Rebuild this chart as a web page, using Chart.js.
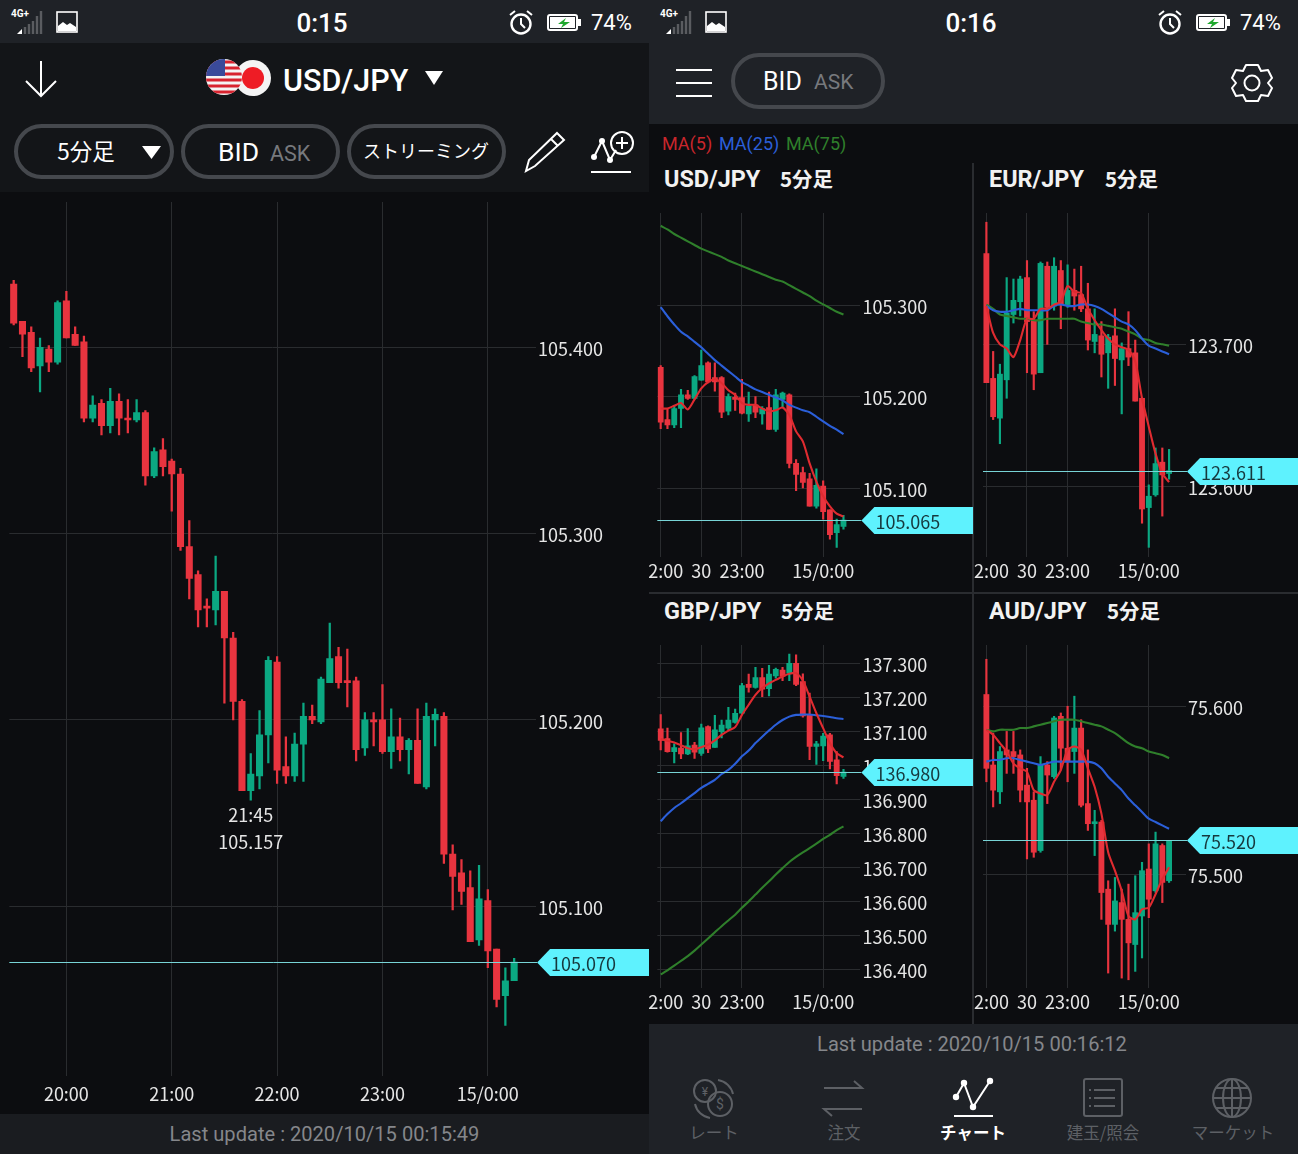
<!DOCTYPE html>
<html lang="ja">
<head>
<meta charset="utf-8">
<title>USD/JPY 5分足</title>
<script src="https://cdn.jsdelivr.net/npm/chart.js@4/dist/chart.umd.min.js"></script>
<style>
  html, body { margin: 0; padding: 0; background: #0c0d10; }
  #page { position: relative; width: 1298px; height: 1154px; overflow: hidden; }
  #page svg { position: absolute; left: 0; top: 0; }
  #page canvas { position: absolute; }
  text { font-family: "Roboto", "Noto Sans CJK JP", sans-serif; }
  .jp { font-family: "Noto Sans CJK JP", sans-serif; }
</style>
</head>
<body>
<div id="page">
<svg width="1298" height="1154" viewBox="0 0 1298 1154">
  <defs>
    <clipPath id="usFlag"><circle cx="224" cy="77" r="18"/></clipPath>
    <g id="statusIcons">
      <text x="11" y="17" font-size="10" font-weight="700" fill="#fff">4G+</text>
      <path d="M17 34 L22 34 L22 29 Z" fill="#fff"/>
      <path d="M25 34V27 M29 34V24 M33 34V21 M37 34V16 M41 34V11" stroke="#5a5c60" stroke-width="2.4"/>
      <rect x="57" y="12" width="20" height="20" fill="none" stroke="#fff" stroke-width="1.6"/>
      <path d="M58 31 V26 L63 22 L67 25 L70 23 L76 27 V31 Z" fill="#fff"/>
      <circle cx="521" cy="24" r="9.5" fill="none" stroke="#fff" stroke-width="2.4"/>
      <path d="M521 18 V24 L525 28 M510 15 L515 11 M532 15 L527 11" fill="none" stroke="#fff" stroke-width="2"/>
      <rect x="548" y="15" width="29" height="15" rx="2" fill="none" stroke="#fff" stroke-width="2"/>
      <rect x="578" y="19" width="3" height="7" fill="#fff"/>
      <rect x="550" y="17" width="25" height="11" fill="#fff"/>
      <path d="M558 24 L566 18 L564 22 L570 22 L561 28 L563 24 Z" fill="#1fa82e"/>
      <text x="591" y="30" font-size="22" fill="#fff">74%</text>
    </g>
  </defs>

  <!-- left phone -->
  <rect x="0" y="0" width="649" height="43" fill="#1f2227"/>
  <rect x="0" y="43" width="649" height="149" fill="#131518"/>
  <rect x="0" y="192" width="649" height="922" fill="#0c0d10"/>
  <rect x="0" y="1114" width="649" height="40" fill="#1a1c20"/>
  <use href="#statusIcons"/>
  <text x="322" y="32" font-size="26" font-weight="500" fill="#fff" text-anchor="middle">0:15</text>
  <path d="M41 61 V96 M26 81 L41 96 L56 81" fill="none" stroke="#fff" stroke-width="2"/>
  <circle cx="253" cy="78" r="18" fill="#f4f4f4"/>
  <circle cx="253" cy="78" r="11" fill="#ee1c25"/>
  <g clip-path="url(#usFlag)">
    <rect x="206" y="59" width="36" height="36" fill="#f4f4f4"/>
    <path d="M206 62h36M206 68h36M206 74h36M206 80h36M206 86h36M206 92h36" stroke="#d8232f" stroke-width="3"/>
    <rect x="206" y="59" width="19" height="17" fill="#3a4a9a"/>
  </g>
  <text x="283" y="91" font-size="30.5" font-weight="500" fill="#fff">USD/JPY</text>
  <path d="M425 71 H443 L434 85 Z" fill="#fff"/>

  <rect x="16" y="126" width="156" height="51" rx="25.5" fill="none" stroke="#45484d" stroke-width="4"/>
  <text class="jp" x="86" y="160" font-size="22.5" fill="#fff" text-anchor="middle">5分足</text>
  <path d="M142 146 H161 L151.5 159 Z" fill="#fff"/>
  <rect x="183" y="126" width="155" height="51" rx="25.5" fill="none" stroke="#45484d" stroke-width="4"/>
  <text x="218" y="161" font-size="26.5" fill="#fff">BID</text>
  <text x="270" y="161" font-size="21.5" fill="#77797d">ASK</text>
  <rect x="349" y="126" width="155" height="51" rx="25.5" fill="none" stroke="#45484d" stroke-width="4"/>
  <text class="jp" x="426" y="158" font-size="18" fill="#fff" text-anchor="middle">ストリーミング</text>
  <path d="M557 133 L564 140 L535 166 L526 171 L529 160 Z M551 139 L558 146" fill="none" stroke="#fff" stroke-width="2"/>
  <circle cx="622" cy="143" r="11" fill="none" stroke="#fff" stroke-width="2"/>
  <path d="M622 137 V149 M616 143 H628" stroke="#fff" stroke-width="2"/>
  <path d="M594 157 L602 141 L610 160 L616 150" fill="none" stroke="#fff" stroke-width="2"/>
  <circle cx="594" cy="157" r="3" fill="#fff"/><circle cx="602" cy="141" r="3" fill="#fff"/><circle cx="610" cy="160" r="3" fill="#fff"/>
  <path d="M591 172 H631" stroke="#fff" stroke-width="2"/>
  <text x="324.5" y="1141" font-size="20.1" fill="#85878b" text-anchor="middle">Last update : 2020/10/15 00:15:49</text>

  <!-- right phone -->
  <rect x="649" y="0" width="649" height="124" fill="#1f2227"/>
  <rect x="649" y="124" width="649" height="900" fill="#0c0d10"/>
  <rect x="649" y="1024" width="649" height="130" fill="#1f2227"/>
  <use href="#statusIcons" x="649"/>
  <text x="971" y="32" font-size="26" font-weight="500" fill="#fff" text-anchor="middle">0:16</text>
  <path d="M676 70 H712 M676 83 H712 M676 96 H712" stroke="#fff" stroke-width="2"/>
  <rect x="733" y="55" width="150" height="52" rx="26" fill="none" stroke="#45484d" stroke-width="4"/>
  <text x="763" y="90" font-size="25" fill="#fff">BID</text>
  <text x="814" y="89" font-size="21" fill="#77797d">ASK</text>
  <circle cx="1252" cy="83" r="7.5" fill="none" stroke="#fff" stroke-width="2"/>
  <path d="M1246 65 H1258 L1261 71 L1268 70 L1272 78 L1268 83 L1272 88 L1268 96 L1261 95 L1258 101 H1246 L1243 95 L1236 96 L1232 88 L1236 83 L1232 78 L1236 70 L1243 71 Z" fill="none" stroke="#fff" stroke-width="2" stroke-linejoin="round"/>

  <text x="662" y="150" font-size="18" fill="#c9262c">MA(5)</text>
  <text x="719" y="150" font-size="18" fill="#2b5fd9">MA(25)</text>
  <text x="786" y="150" font-size="18" fill="#2f7f2b">MA(75)</text>

  <text x="664" y="187" font-size="23.4" font-weight="700" fill="#f2f2f2">USD/JPY</text>
  <text class="jp" x="780" y="187" font-size="20.5" font-weight="700" fill="#f2f2f2">5分足</text>
  <text x="989" y="187" font-size="23.4" font-weight="700" fill="#f2f2f2">EUR/JPY</text>
  <text class="jp" x="1105" y="187" font-size="20.5" font-weight="700" fill="#f2f2f2">5分足</text>
  <text x="664" y="619" font-size="23.4" font-weight="700" fill="#f2f2f2">GBP/JPY</text>
  <text class="jp" x="781" y="619" font-size="20.5" font-weight="700" fill="#f2f2f2">5分足</text>
  <text x="989" y="619" font-size="23.4" font-weight="700" fill="#f2f2f2">AUD/JPY</text>
  <text class="jp" x="1107" y="619" font-size="20.5" font-weight="700" fill="#f2f2f2">5分足</text>

  <path d="M973 163 V1024 M649 593 H1298" stroke="#2a2c30" stroke-width="2"/>

  <text x="972" y="1051" font-size="20.1" fill="#85878b" text-anchor="middle">Last update : 2020/10/15 00:16:12</text>
  <!-- bottom nav -->
  <g fill="none" stroke="#5d6065" stroke-width="2">
    <circle cx="705" cy="1091" r="11"/><circle cx="720" cy="1104" r="12"/>
    <path d="M718 1080 a18 18 0 0 1 15 14 M695 1104 a18 18 0 0 0 15 14"/>
    <path d="M824 1088 H862 L854 1081 M862 1109 H824 L832 1116"/>
    <rect x="1084" y="1079" width="38" height="37" rx="2"/>
    <path d="M1094 1090 H1115 M1094 1098 H1115 M1094 1106 H1115 M1089 1090 h2 M1089 1098 h2 M1089 1106 h2"/>
    <circle cx="1232" cy="1098" r="19"/><ellipse cx="1232" cy="1098" rx="9" ry="19"/>
    <path d="M1232 1079 V1117 M1213 1098 H1251 M1216 1088 H1248 M1216 1108 H1248"/>
  </g>
  <text x="705" y="1096" font-size="12" fill="#5d6065" text-anchor="middle">¥</text>
  <text x="720" y="1109" font-size="14" fill="#5d6065" text-anchor="middle">$</text>
  <path d="M956 1097 L964 1083 L973 1107 L990 1081" fill="none" stroke="#fff" stroke-width="2"/>
  <circle cx="956" cy="1097" r="3.2" fill="#fff"/><circle cx="964" cy="1083" r="3.2" fill="#fff"/><circle cx="973" cy="1107" r="3.2" fill="#fff"/><circle cx="990" cy="1081" r="3.2" fill="#fff"/>
  <path d="M954 1116 H993" stroke="#fff" stroke-width="2"/>
  <g class="jp" font-size="16.5" text-anchor="middle" fill="#5d6065">
    <text class="jp" x="714" y="1139">レート</text>
    <text class="jp" x="844" y="1139">注文</text>
    <text class="jp" x="973" y="1139" fill="#fff" font-weight="700">チャート</text>
    <text class="jp" x="1103" y="1139">建玉/照会</text>
    <text class="jp" x="1233" y="1139">マーケット</text>
  </g>
</svg>
<canvas id="mainChart" width="649" height="920" style="left:0;top:193px"></canvas>
<canvas id="usdChart" width="324" height="395" style="left:649px;top:195px"></canvas>
<canvas id="eurChart" width="324" height="395" style="left:974px;top:195px"></canvas>
<canvas id="gbpChart" width="324" height="430" style="left:649px;top:594px"></canvas>
<canvas id="audChart" width="324" height="430" style="left:974px;top:594px"></canvas>
</div>

<script>
// Datos
const mainCategories = ['19:30','19:35','19:40','19:45','19:50','19:55','20:00','20:05','20:10','20:15','20:20','20:25','20:30','20:35','20:40','20:45','20:50','20:55','21:00','21:05','21:10','21:15','21:20','21:25','21:30','21:35','21:40','21:45','21:50','21:55','22:00','22:05','22:10','22:15','22:20','22:25','22:30','22:35','22:40','22:45','22:50','22:55','23:00','23:05','23:10','23:15','23:20','23:25','23:30','23:35','23:40','23:45','23:50','23:55','15/0:00','15/0:05','15/0:10','15/0:15','15/0:20','15/0:25'];
const mainTimeTicks = ['20:00','21:00','22:00','23:00','15/0:00'];
const mainPriceTicks = [105.4, 105.3, 105.2, 105.1];
const mainMarkedTime = '21:45';
const mainOpen = [105.434,105.414,105.408,105.390,105.399,105.392,105.425,105.407,105.403,105.362,105.370,105.358,105.371,105.362,105.361,105.365,105.331,105.345,105.339,105.332,105.293,105.278,105.261,105.259,105.269,105.244,105.210,105.162,105.170,105.192,105.231,105.175,105.170,105.187,105.202,105.199,105.220,105.234,105.221,105.221,105.185,105.200,105.200,105.183,105.191,105.184,105.189,105.164,105.200,105.202,105.128,105.118,105.110,105.082,105.103,105.077,105.052,105.060];
const mainHigh = [105.436,105.414,105.411,105.405,105.401,105.425,105.430,105.411,105.406,105.374,105.372,105.378,105.375,105.372,105.372,105.366,105.346,105.351,105.340,105.335,105.307,105.280,105.265,105.288,105.269,105.247,105.211,105.182,105.205,105.234,105.234,105.191,105.193,105.209,105.208,105.223,105.252,105.239,105.238,105.223,105.204,105.204,105.219,105.206,105.201,105.190,105.206,105.209,105.206,105.204,105.133,105.125,105.119,105.122,105.109,105.077,105.067,105.072];
const mainLow = [105.412,105.395,105.387,105.376,105.387,105.391,105.405,105.401,105.360,105.360,105.353,105.354,105.353,105.354,105.360,105.326,105.330,105.331,105.312,105.291,105.265,105.250,105.250,105.251,105.209,105.200,105.162,105.157,105.163,105.177,105.166,105.166,105.167,105.167,105.198,105.198,105.220,105.217,105.207,105.178,105.181,105.186,105.182,105.174,105.178,105.171,105.166,105.163,105.186,105.123,105.098,105.101,105.081,105.079,105.067,105.046,105.036,105.060];
const mainClose = [105.413,105.407,105.389,105.400,105.392,105.424,105.405,105.401,105.362,105.369,105.358,105.371,105.362,105.361,105.365,105.331,105.344,105.336,105.332,105.293,105.276,105.259,105.260,105.269,105.244,105.210,105.162,105.171,105.192,105.232,105.173,105.170,105.187,105.202,105.200,105.222,105.233,105.220,105.220,105.184,105.200,105.199,105.183,105.191,105.184,105.189,105.166,105.202,105.203,105.128,105.116,105.108,105.081,105.104,105.076,105.050,105.060,105.070];

const subCategories = ['22:00','22:05','22:10','22:15','22:20','22:25','30','22:35','22:40','22:45','22:50','22:55','23:00','23:05','23:10','23:15','23:20','23:25','23:30','23:35','23:40','23:45','23:50','23:55','15/0:00','15/0:05','15/0:10','15/0:15','15/0:20','15/0:25'];
const subTimeTicks = ['22:00','30','23:00','15/0:00'];

const usdPriceTicks = [105.3, 105.2, 105.1];
const usdOpen = [105.232,105.175,105.169,105.187,105.202,105.198,105.218,105.237,105.221,105.221,105.184,105.199,105.199,105.181,105.191,105.181,105.188,105.164,105.197,105.202,105.127,105.117,105.110,105.080,105.102,105.076,105.051,105.058];
const usdHigh = [105.234,105.186,105.190,105.208,105.207,105.223,105.251,105.238,105.237,105.222,105.203,105.204,105.219,105.205,105.200,105.189,105.205,105.208,105.205,105.203,105.131,105.123,105.116,105.121,105.108,105.076,105.066,105.070];
const usdLow = [105.165,105.165,105.166,105.166,105.197,105.197,105.218,105.215,105.206,105.177,105.180,105.185,105.181,105.173,105.177,105.170,105.164,105.162,105.189,105.122,105.097,105.100,105.080,105.078,105.066,105.044,105.035,105.055];
const usdClose = [105.172,105.169,105.187,105.202,105.198,105.222,105.234,105.216,105.216,105.183,105.200,105.197,105.182,105.190,105.183,105.187,105.164,105.202,105.204,105.127,105.115,105.106,105.080,105.103,105.074,105.049,105.060,105.065];
const usdMa5 = [105.187,105.187,105.190,105.193,105.186,105.197,105.209,105.216,105.219,105.215,105.207,105.202,105.193,105.191,105.191,105.187,105.184,105.185,105.188,105.180,105.162,105.151,105.127,105.107,105.091,105.080,105.072,105.069];
const usdMa25 = [105.298,105.288,105.279,105.271,105.266,105.260,105.254,105.247,105.240,105.234,105.228,105.222,105.216,105.212,105.208,105.205,105.202,105.199,105.196,105.191,105.188,105.185,105.183,105.178,105.173,105.168,105.164,105.159];
const usdMa75 = [105.387,105.383,105.378,105.374,105.370,105.366,105.362,105.359,105.356,105.353,105.349,105.346,105.343,105.340,105.337,105.334,105.331,105.328,105.326,105.322,105.318,105.314,105.310,105.305,105.301,105.297,105.293,105.290];

const eurPriceTicks = [123.7, 123.6];
const eurOpen = [123.764,123.676,123.648,123.675,123.721,123.730,123.747,123.717,123.680,123.755,123.727,123.752,123.728,123.738,123.735,123.725,123.702,123.706,123.694,123.706,123.689,123.697,123.694,123.662,123.585,123.594,123.617,123.609];
const eurHigh = [123.786,123.695,123.686,123.747,123.746,123.748,123.759,123.723,123.758,123.758,123.761,123.759,123.756,123.753,123.755,123.743,123.725,123.716,123.707,123.725,123.701,123.723,123.703,123.662,123.601,123.627,123.627,123.626];
const eurLow = [123.673,123.647,123.630,123.662,123.715,123.720,123.680,123.668,123.680,123.700,123.724,123.711,123.726,123.724,123.723,123.696,123.694,123.677,123.669,123.671,123.651,123.685,123.660,123.574,123.557,123.593,123.579,123.605];
const eurClose = [123.673,123.649,123.679,123.722,123.731,123.746,123.716,123.679,123.757,123.726,123.755,123.728,123.738,123.734,123.725,123.703,123.707,123.693,123.705,123.690,123.697,123.691,123.660,123.584,123.593,123.616,123.608,123.611];
const eurMa5 = [123.727,123.708,123.700,123.697,123.691,123.703,123.718,123.718,123.725,123.725,123.728,123.730,123.741,123.737,123.736,123.725,123.717,123.710,123.704,123.700,123.698,123.696,123.688,123.662,123.642,123.623,123.609,123.603];
const eurMa25 = [123.727,123.724,123.723,123.723,123.724,123.725,123.724,123.724,123.724,123.724,123.727,123.728,123.727,123.727,123.728,123.728,123.727,123.725,123.722,123.719,123.716,123.714,123.710,123.704,123.699,123.697,123.695,123.693];
const eurMa75 = [123.728,123.725,123.721,123.720,123.719,123.718,123.718,123.717,123.717,123.718,123.718,123.718,123.718,123.718,123.716,123.715,123.714,123.714,123.713,123.712,123.711,123.709,123.707,123.704,123.703,123.701,123.700,123.699];

const gbpPriceTicks = [137.3, 137.2, 137.1, 137.0, 136.9, 136.8, 136.7, 136.6, 136.5, 136.4];
const gbpOpen = [137.107,137.078,137.040,137.050,137.033,137.059,137.035,137.114,137.052,137.099,137.109,137.126,137.153,137.238,137.229,137.258,137.225,137.263,137.280,137.271,137.300,137.246,137.148,137.055,137.057,137.089,137.016,136.967];
const gbpHigh = [137.149,137.109,137.063,137.096,137.108,137.067,137.121,137.116,137.147,137.133,137.170,137.165,137.241,137.268,137.288,137.285,137.294,137.286,137.288,137.327,137.325,137.269,137.212,137.070,137.094,137.094,137.040,136.988];
const gbpLow = [137.045,137.038,137.007,137.019,137.031,137.020,137.029,137.037,137.052,137.080,137.104,137.124,137.151,137.215,137.227,137.202,137.204,137.256,137.249,137.249,137.234,137.141,137.016,137.002,137.013,136.989,136.945,136.961];
const gbpClose = [137.073,137.040,137.052,137.033,137.057,137.038,137.110,137.048,137.104,137.118,137.133,137.153,137.234,137.229,137.258,137.224,137.268,137.282,137.261,137.300,137.238,137.145,137.055,137.063,137.086,137.011,136.969,136.980];
const gbpMa5 = [137.077,137.072,137.067,137.059,137.050,137.047,137.053,137.060,137.073,137.089,137.102,137.112,137.148,137.178,137.207,137.227,137.241,137.251,137.261,137.269,137.271,137.249,137.202,137.153,137.109,137.065,137.035,137.023];
const gbpMa25 = [136.835,136.856,136.874,136.888,136.903,136.918,136.933,136.945,136.957,136.974,136.986,137.004,137.026,137.043,137.065,137.084,137.102,137.119,137.133,137.143,137.148,137.149,137.149,137.147,137.145,137.142,137.138,137.136];
const gbpMa75 = [136.384,136.396,136.410,136.424,136.438,136.454,136.472,136.490,136.508,136.526,136.543,136.560,136.580,136.599,136.619,136.639,136.658,136.678,136.697,136.715,136.730,136.743,136.756,136.769,136.783,136.795,136.809,136.820];

const audPriceTicks = [75.6, 75.5];
const audOpen = [75.607,75.565,75.549,75.574,75.573,75.571,75.553,75.544,75.514,75.565,75.558,75.594,75.575,75.573,75.587,75.542,75.530,75.531,75.491,75.470,75.483,75.473,75.458,75.475,75.503,75.490,75.517,75.496];
const audHigh = [75.628,75.584,75.576,75.585,75.585,75.574,75.563,75.549,75.570,75.567,75.594,75.596,75.600,75.606,75.592,75.574,75.538,75.532,75.496,75.498,75.491,75.494,75.499,75.507,75.518,75.525,75.518,75.520];
const audLow = [75.555,75.540,75.542,75.560,75.560,75.543,75.509,75.510,75.513,75.542,75.557,75.562,75.555,75.560,75.540,75.526,75.511,75.473,75.441,75.466,75.438,75.437,75.442,75.450,75.474,75.489,75.483,75.495];
const audClose = [75.563,75.550,75.573,75.571,75.570,75.550,75.543,75.513,75.565,75.559,75.593,75.575,75.567,75.587,75.541,75.530,75.531,75.489,75.470,75.484,75.473,75.459,75.477,75.502,75.485,75.518,75.495,75.520];
const audMa5 = [75.586,75.583,75.578,75.573,75.566,75.563,75.561,75.550,75.548,75.547,75.555,75.562,75.574,75.576,75.574,75.563,75.552,75.536,75.513,75.502,75.490,75.475,75.473,75.479,75.480,75.488,75.497,75.504];
const audMa25 = [75.567,75.568,75.568,75.569,75.569,75.568,75.567,75.566,75.565,75.566,75.567,75.567,75.567,75.567,75.567,75.567,75.566,75.563,75.558,75.554,75.550,75.545,75.541,75.537,75.533,75.531,75.529,75.527];
const audMa75 = [75.586,75.585,75.586,75.586,75.586,75.587,75.587,75.588,75.589,75.590,75.591,75.592,75.592,75.592,75.591,75.590,75.589,75.588,75.586,75.584,75.581,75.578,75.576,75.575,75.573,75.572,75.571,75.569];

const RED = '#e8343f';
const GREEN = '#0ba882';
const GRID = '#2a2c2f';
const TICK_FONT = { family: '"Noto Sans CJK JP", sans-serif', size: 18 };

// Linea del precio actual y su etiqueta celeste
function priceTagPlugin(price, tagWidth) {
    return {
        id: 'priceTag',
        afterDatasetsDraw(chart) {
            const ctx = chart.ctx;
            const y = chart.scales.y.getPixelForValue(price);
            const tip = chart.chartArea.right + 1;
            ctx.save();
            ctx.strokeStyle = '#78d4d6';
            ctx.lineWidth = 1;
            ctx.beginPath();
            ctx.moveTo(chart.chartArea.left, Math.round(y) + 0.5);
            ctx.lineTo(tip, Math.round(y) + 0.5);
            ctx.stroke();
            ctx.restore();
        },
        afterDraw(chart) {
            const ctx = chart.ctx;
            const y = Math.round(chart.scales.y.getPixelForValue(price)) + 0.5;
            const tip = chart.chartArea.right + 1;
            ctx.save();
            ctx.fillStyle = '#5ef2fe';
            ctx.beginPath();
            ctx.moveTo(tip, y);
            ctx.lineTo(tip + 13, y - 13.5);
            ctx.lineTo(tip + tagWidth, y - 13.5);
            ctx.lineTo(tip + tagWidth, y + 13.5);
            ctx.lineTo(tip + 13, y + 13.5);
            ctx.closePath();
            ctx.fill();
            ctx.fillStyle = '#16383d';
            ctx.font = '18px ' + TICK_FONT.family;
            ctx.textAlign = 'left';
            ctx.textBaseline = 'middle';
            ctx.fillText(price.toFixed(3), tip + 14, y + 1.5);
            ctx.restore();
        }
    };
}

// Hora y precio de la vela marcada, debajo de ella
const markedLowPlugin = {
    id: 'markedLow',
    afterDatasetsDraw(chart) {
        const index = mainCategories.indexOf(mainMarkedTime);
        const ctx = chart.ctx;
        const x = chart.scales.x.getPixelForValue(index);
        const y = chart.scales.y.getPixelForValue(mainLow[index]);
        ctx.save();
        ctx.fillStyle = '#e6e6e6';
        ctx.font = '18px ' + TICK_FONT.family;
        ctx.textAlign = 'center';
        ctx.textBaseline = 'middle';
        ctx.fillText(mainMarkedTime, x, y + 15);
        ctx.fillText(mainLow[index].toFixed(3), x, y + 42);
        ctx.restore();
    }
};

function candleChart(id, series, view) {
    const bodyColors = series.close.map((c, i) => c >= series.open[i] ? GREEN : RED);
    const datasets = [
        {
            label: 'wick',
            data: series.low.map((l, i) => [l, series.high[i]]),
            backgroundColor: bodyColors,
            barThickness: view.wick,
            grouped: false,
            order: 3
        },
        {
            label: 'body',
            data: series.open.map((o, i) => [o, series.close[i]]),
            backgroundColor: bodyColors,
            barThickness: view.body,
            minBarLength: 2,
            grouped: false,
            order: 2
        }
    ];
    (series.averages || []).forEach(ma => {
        datasets.push({
            type: 'line',
            label: ma.label,
            data: ma.data,
            borderColor: ma.color,
            borderWidth: 2.1,
            pointRadius: 0,
            tension: 0.25,
            order: ma.order
        });
    });

    return new Chart(document.getElementById(id), {
        type: 'bar',
        data: { labels: series.categories, datasets: datasets },
        plugins: view.plugins,
        options: {
            responsive: false,
            animation: false,
            events: [],
            layout: {
                autoPadding: false,
                padding: { left: view.left, top: view.top, right: 0, bottom: 0 }
            },
            plugins: {
                legend: { display: false },
                tooltip: { enabled: false }
            },
            scales: {
                x: {
                    type: 'category',
                    offset: true,
                    // las etiquetas de los bordes no deben mover el area del grafico
                    afterFit: s => { s.height = view.xHeight; s.paddingLeft = 0; s.paddingRight = 0; },
                    afterBuildTicks: s => {
                        s.ticks = s.ticks.filter(t => series.timeTicks.includes(series.categories[t.value]));
                    },
                    grid: { color: GRID, offset: false, drawTicks: false, lineWidth: 1 },
                    border: { display: false },
                    ticks: {
                        autoSkip: false,
                        maxRotation: 0,
                        minRotation: 0,
                        padding: view.xPad,
                        color: '#e6e6e6',
                        font: TICK_FONT
                    }
                },
                y: {
                    position: 'right',
                    min: view.yMin,
                    max: view.yMax,
                    afterFit: s => { s.width = view.yWidth; s.paddingTop = 0; s.paddingBottom = 0; },
                    afterBuildTicks: s => {
                        s.ticks = series.priceTicks.map(v => ({ value: v }));
                    },
                    grid: { color: GRID, drawTicks: false, lineWidth: 1 },
                    border: { display: false },
                    ticks: {
                        padding: 2,
                        labelOffset: 2,
                        color: '#e6e6e6',
                        font: TICK_FONT,
                        callback: v => v.toFixed(3)
                    }
                }
            }
        }
    });
}

function movingAverages(ma5, ma25, ma75) {
    return [
        { label: 'MA(75)', data: ma75, color: '#2f7f2b', order: 1 },
        { label: 'MA(25)', data: ma25, color: '#2b5fd9', order: 0.5 },
        { label: 'MA(5)', data: ma5, color: '#e02b30', order: 0 }
    ];
}

// Grafico principal
candleChart('mainChart', {
    categories: mainCategories, timeTicks: mainTimeTicks, priceTicks: mainPriceTicks,
    open: mainOpen, high: mainHigh, low: mainLow, close: mainClose
}, {
    left: 9.3, top: 9, xHeight: 37, yWidth: 112.9, xPad: 7, body: 6.4, wick: 1.6,
    yMin: 105.0089, yMax: 105.478,
    plugins: [priceTagPlugin(mainClose[mainClose.length - 1], 112), markedLowPlugin]
});

// Cuatro graficos pequenos
candleChart('usdChart', {
    categories: subCategories, timeTicks: subTimeTicks, priceTicks: usdPriceTicks,
    open: usdOpen, high: usdHigh, low: usdLow, close: usdClose,
    averages: movingAverages(usdMa5, usdMa25, usdMa75)
}, {
    left: 8.3, top: 18, xHeight: 33, yWidth: 112.6, xPad: 3, body: 5.2, wick: 1.5,
    yMin: 105.0245, yMax: 105.401,
    plugins: [priceTagPlugin(usdClose[usdClose.length - 1], 112)]
});

candleChart('eurChart', {
    categories: subCategories, timeTicks: subTimeTicks, priceTicks: eurPriceTicks,
    open: eurOpen, high: eurHigh, low: eurLow, close: eurClose,
    averages: movingAverages(eurMa5, eurMa25, eurMa75)
}, {
    left: 9, top: 18, xHeight: 33, yWidth: 112, xPad: 3, body: 5.2, wick: 1.5,
    yMin: 123.5502, yMax: 123.7925,
    plugins: [priceTagPlugin(eurClose[eurClose.length - 1], 112)]
});

candleChart('gbpChart', {
    categories: subCategories, timeTicks: subTimeTicks, priceTicks: gbpPriceTicks,
    open: gbpOpen, high: gbpHigh, low: gbpLow, close: gbpClose,
    averages: movingAverages(gbpMa5, gbpMa25, gbpMa75)
}, {
    left: 8.3, top: 51, xHeight: 36, yWidth: 112.6, xPad: 3, body: 5.2, wick: 1.5,
    yMin: 136.3441, yMax: 137.3538,
    plugins: [priceTagPlugin(gbpClose[gbpClose.length - 1], 112)]
});

candleChart('audChart', {
    categories: subCategories, timeTicks: subTimeTicks, priceTicks: audPriceTicks,
    open: audOpen, high: audHigh, low: audLow, close: audClose,
    averages: movingAverages(audMa5, audMa25, audMa75)
}, {
    left: 9, top: 51, xHeight: 36, yWidth: 112, xPad: 3, body: 5.2, wick: 1.5,
    yMin: 75.4321, yMax: 75.6365,
    plugins: [priceTagPlugin(audClose[audClose.length - 1], 112)]
});
</script>
</body>
</html>
